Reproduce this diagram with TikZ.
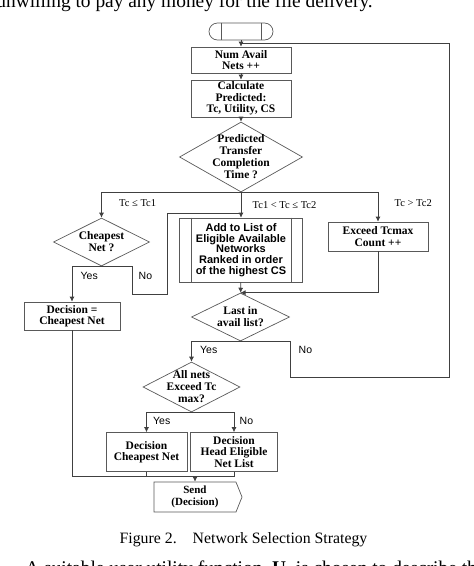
\documentclass[tikz,border=0pt]{standalone}
\usepackage{fontspec}
\setmainfont{Liberation Serif}
\newfontfamily\arialfam{Liberation Sans}
\usetikzlibrary{shapes.geometric,shapes.symbols,arrows.meta}

\begin{document}
\begin{tikzpicture}[x=1pt,y=-1pt,line width=0.7pt,
    arr/.style={-{Latex[length=5pt,width=5pt]},draw=black!75},
    conn/.style={draw=black!75},
    box/.style={rectangle,draw=black!65,inner sep=0pt,align=center,
      font=\bfseries\fontsize{11.5}{11.5}\selectfont},
    dia/.style={diamond,draw=black!65,inner sep=0pt},
    diatext/.style={align=center,font=\bfseries\fontsize{11.5}{12}\selectfont},
    cond/.style={font=\fontsize{10.5}{12}\selectfont},
    yn/.style={font=\arialfam\fontsize{10.5}{12}\selectfont}]
      \useasboundingbox (0,0) rectangle (474,566);

      % running text of the page
      \node[anchor=base west,inner sep=0pt,font=\fontsize{19.4}{22}\selectfont] (toptext) at (-4,7.5)
        {unwilling to pay any money for the file delivery.};

      % start
      \node[box,rounded corners=8.5pt,minimum width=64pt,minimum height=17pt] (start) at (241,31.5) {};
      \draw[black!65] ([xshift=-20pt]start.north) -- ([xshift=-20pt]start.south)
                      ([xshift=20pt]start.north) -- ([xshift=20pt]start.south);

      \node[box,minimum width=100pt,minimum height=26pt] (num) at (241,60) {Num Avail\\Nets ++};
      \node[box,minimum width=100pt,minimum height=37pt] (calc) at (241,98.5) {Calculate\\Predicted:\\Tc, Utility, CS};
      \node[dia,minimum width=123pt,minimum height=70pt,
        label={[diatext]center:{Predicted\\Transfer\\Completion\\Time ?}}] (pred) at (241,157) {};

      % three cases
      \node[dia,minimum width=96pt,minimum height=48pt,
        label={[diatext]center:{Cheapest\\Net ?}}] (cheap) at (101.5,242) {};
      \node[box,minimum width=123pt,minimum height=64pt,
        font=\arialfam\bfseries\fontsize{11}{10.8}\selectfont] (addlist) at (241,250)
        {Add to List of\\Eligible Available\\Networks\\Ranked in order\\of the highest CS};
      \draw[black!65] ([xshift=-50pt]addlist.north) -- ([xshift=-50pt]addlist.south)
                      ([xshift=50pt]addlist.north) -- ([xshift=50pt]addlist.south);
      \node[box,minimum width=100pt,minimum height=29pt] (exceed) at (378,236.5) {Exceed Tcmax\\Count ++};

      \node[box,minimum width=96pt,minimum height=28pt] (decc) at (72,316) {Decision =\\Cheapest Net};
      \node[dia,minimum width=98pt,minimum height=48pt,
        label={[diatext]center:{Last in\\avail list?}}] (last) at (240.5,317) {};
      \node[dia,minimum width=97pt,minimum height=50pt,
        label={[diatext]center:{All nets\\Exceed Tc\\max?}}] (allnets) at (191.5,387) {};

      \node[box,minimum width=81pt,minimum height=39pt] (decy) at (146.5,452) {Decision\\Cheapest Net};
      \node[box,minimum width=87pt,minimum height=39pt] (decn) at (234,452) {Decision\\Head Eligible\\Net List};
      \node[signal,signal to=east,signal pointer angle=136,draw=black!65,inner sep=0pt,
        minimum width=88pt,minimum height=30pt,align=center,
        font=\bfseries\fontsize{11}{11.5}\selectfont] (send) at (195,497) {Send\\(Decision)};

      \coordinate (loopin) at (241,43);
      \coordinate (nojoin) at (241,213);
      \coordinate (merge) at (195,476);

      \draw[arr] (start) -- (num);
      \draw[arr] (num) -- (calc);
      \draw[arr] (calc) -- (pred);
      \draw[arr] (pred.south) -| node[cond,pos=0.72,right=14pt]{Tc ≤ Tc1} (cheap.north);
      \draw[arr] (pred) -- node[cond,right=8pt]{Tc1 < Tc ≤ Tc2} (addlist);
      \draw[arr] (pred.south) -| node[cond,pos=0.68,right=13pt]{Tc > Tc2} (exceed.north);

      \draw[arr] (cheap.south) -| node[yn,pos=0.64,right=5pt]{Yes} (decc.north);
      \draw[conn] (cheap.south) -| node[yn,pos=0.68,right=3pt]{No} (132,294) -| (167,213) -- (nojoin);

      \draw[arr] (addlist) -- (last);
      \draw[arr] (exceed.south) |- (last.north);

      \draw[arr] (last.south) -| node[yn,pos=0.71,right=5pt]{Yes} (allnets.north);
      \draw[conn] (last.south) -| node[yn,pos=0.625,right=5pt]{No} (290,377) -| (449,43) -- (loopin);

      \draw[arr] (allnets.south) -| node[yn,pos=0.71,right=3pt]{Yes} (decy.north);
      \draw[arr] (allnets.south) -| node[yn,pos=0.71,right=2pt]{No} (decn.north);

      \draw[conn] (decc.south) |- (merge);
      \draw[conn] (decy.south) |- (merge);
      \draw[conn] (decn.south) |- (merge);
      \draw[arr] (merge) -- (send);

      % caption and running text
      \node[anchor=base,inner sep=0pt,font=\fontsize{15.8}{18}\selectfont] (caption) at (243.5,543)
        {Figure 2.\hspace{16pt}Network Selection Strategy};
      \node[anchor=base west,inner sep=0pt,font=\fontsize{19.4}{22}\selectfont] (bottext) at (25,574)
        {A suitable user utility function, \textbf{U}, is chosen to describe the};
\end{tikzpicture}
\end{document}
